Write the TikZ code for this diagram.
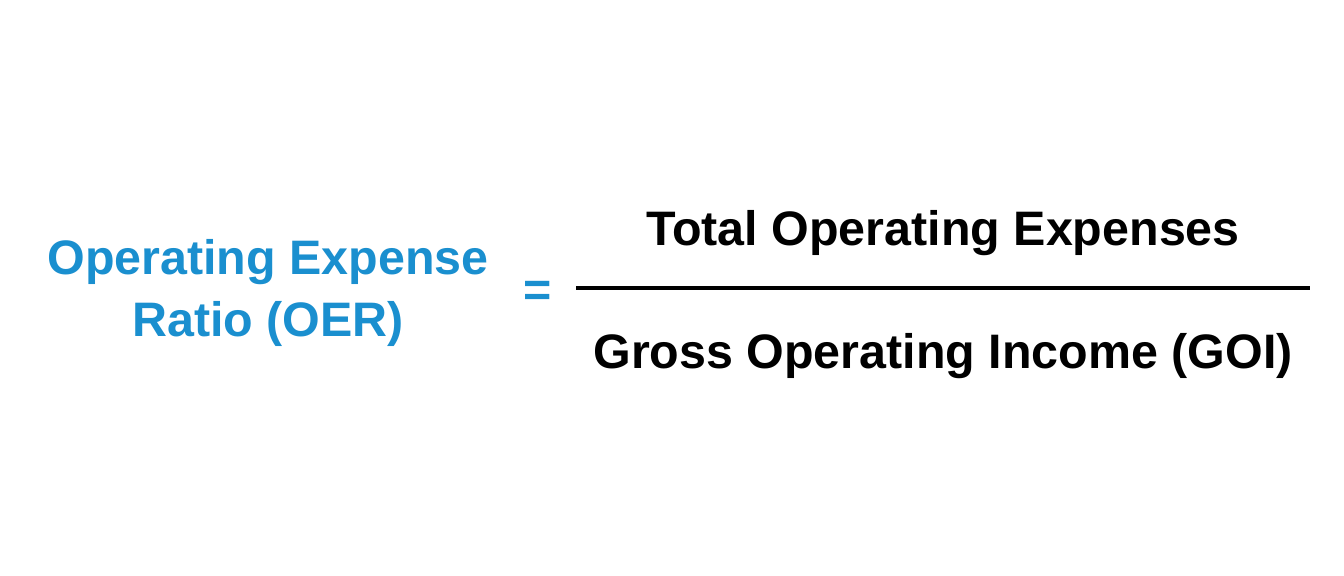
\documentclass[tikz,border=0pt]{standalone}
\usepackage{fontspec}
\setmainfont{Liberation Sans}
\definecolor{oerblue}{HTML}{1A8FCF}
\begin{document}
\begin{tikzpicture}[x=1pt,y=1pt,
  lbl/.style={font=\fontsize{24.2}{28}\selectfont\bfseries,inner sep=0pt,anchor=center},
  blue lbl/.style={lbl,text=oerblue,align=center}]
\useasboundingbox[fill=white] (0,0) rectangle (672,288);
\node[blue lbl] (l1) at (134,157) {Operating Expense};
\node[blue lbl] (l2) at (134,126) {Ratio (OER)};
\node[blue lbl] (eq) at (269,141) {=};
\coordinate (a) at (288,144);
\coordinate (b) at (655,144);
\draw[line width=2pt] (a) -- (b);
\node[lbl] (num) at (471.5,171.5) {Total Operating Expenses};
\node[lbl] (den) at (471.5,110) {Gross Operating Income (GOI)};
\end{tikzpicture}
\end{document}
